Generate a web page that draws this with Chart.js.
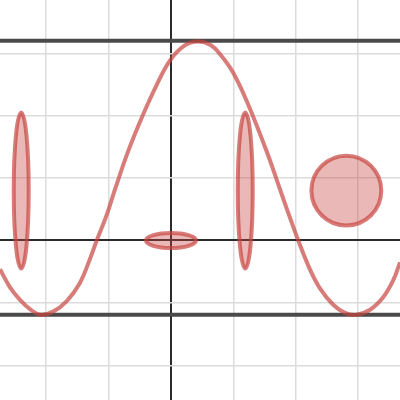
<!DOCTYPE html>
<html>
<head>
<meta charset="utf-8">
<script src="https://cdn.jsdelivr.net/npm/chart.js@4"></script>
<style>
  html, body { margin: 0; padding: 0; background: #fff; }
  #wrap { width: 400px; height: 400px; }
</style>
</head>
<body>
<div id="wrap"><canvas id="graph"></canvas></div>
<script>
// view window (grid units, one grid square = 1)
var xMin = -2.74, xMax = 3.67;
var yMin = -2.556, yMax = 3.854;

// wave
var waveX = [-2.74, -2.58, -2.42, -2.26, -2.09, -1.89, -1.67, -1.46, -1.30, -1.19, -1.03, -0.90, -0.69, -0.45, -0.24, -0.02, 0.21, 0.43, 0.64, 0.79, 0.99, 1.22, 1.54, 1.75, 1.88, 2.04, 2.23, 2.39, 2.60, 2.79, 2.97, 3.19, 3.40, 3.56, 3.67];
var waveY = [-0.46, -0.75, -0.95, -1.10, -1.19, -1.14, -0.97, -0.68, -0.30, 0.0, 0.41, 0.81, 1.42, 2.01, 2.47, 2.88, 3.12, 3.19, 3.13, 2.98, 2.70, 2.22, 1.41, 0.81, 0.44, 0.0, -0.47, -0.77, -1.03, -1.16, -1.19, -1.11, -0.91, -0.64, -0.35];

// the two flat bands
var bandY = [3.20, -1.19];

// ellipses and the circle: centre, half width, half height
var shapeX = [-2.40, 1.19, 0.0, 2.81];
var shapeY = [0.80, 0.80, 0.0, 0.80];
var shapeRX = [0.12, 0.12, 0.40, 0.56];
var shapeRY = [1.25, 1.25, 0.12, 0.56];

var red = 'rgba(199,68,64,0.7)';
var redFill = 'rgba(199,68,64,0.38)';

var shapes = {
  id: 'shapes',
  beforeDatasetsDraw: function(chart) {
    var ctx = chart.ctx, sx = chart.scales.x, sy = chart.scales.y;
    ctx.save();
    for (var i = 0; i < shapeX.length; i++) {
      var cx = sx.getPixelForValue(shapeX[i]);
      var cy = sy.getPixelForValue(shapeY[i]);
      var rx = Math.abs(sx.getPixelForValue(shapeX[i] + shapeRX[i]) - cx);
      var ry = Math.abs(sy.getPixelForValue(shapeY[i] + shapeRY[i]) - cy);
      ctx.beginPath();
      ctx.ellipse(cx, cy, rx, ry, 0, 0, Math.PI * 2);
      ctx.fillStyle = redFill;
      ctx.fill();
      ctx.lineWidth = 4;
      ctx.strokeStyle = red;
      ctx.stroke();
    }
    ctx.restore();
  }
};

var datasets = [{
  data: waveX.map(function(v, i) { return {x: v, y: waveY[i]}; }),
  borderColor: red,
  borderWidth: 4,
  pointRadius: 0,
  tension: 0.4,
  order: 0
}];
bandY.forEach(function(b) {
  datasets.push({
    data: [{x: xMin, y: b}, {x: xMax, y: b}],
    borderColor: '#4a4a4a',
    borderWidth: 4,
    pointRadius: 0,
    order: 1
  });
});

function gridAxis(lo, hi) {
  return {
    type: 'linear',
    min: lo,
    max: hi,
    ticks: { display: false },
    // one grid line per whole unit
    afterBuildTicks: function(s) {
      var t = [];
      for (var v = Math.ceil(lo); v <= Math.floor(hi); v++) t.push({value: v});
      s.ticks = t;
    },
    border: { display: false },
    grid: {
      drawTicks: false,
      color: function(c) { return c.tick && c.tick.value === 0 ? '#2b2b2b' : '#dcdcdc'; },
      lineWidth: function(c) { return c.tick && c.tick.value === 0 ? 2 : 1.5; }
    }
  };
}

new Chart(document.getElementById('graph'), {
  type: 'scatter',
  data: { datasets: datasets },
  options: {
    responsive: true,
    maintainAspectRatio: false,
    animation: false,
    showLine: true,
    layout: { padding: 0 },
    plugins: { legend: { display: false }, tooltip: { enabled: false } },
    scales: { x: gridAxis(xMin, xMax), y: gridAxis(yMin, yMax) }
  },
  plugins: [shapes]
});
</script>
</body>
</html>
